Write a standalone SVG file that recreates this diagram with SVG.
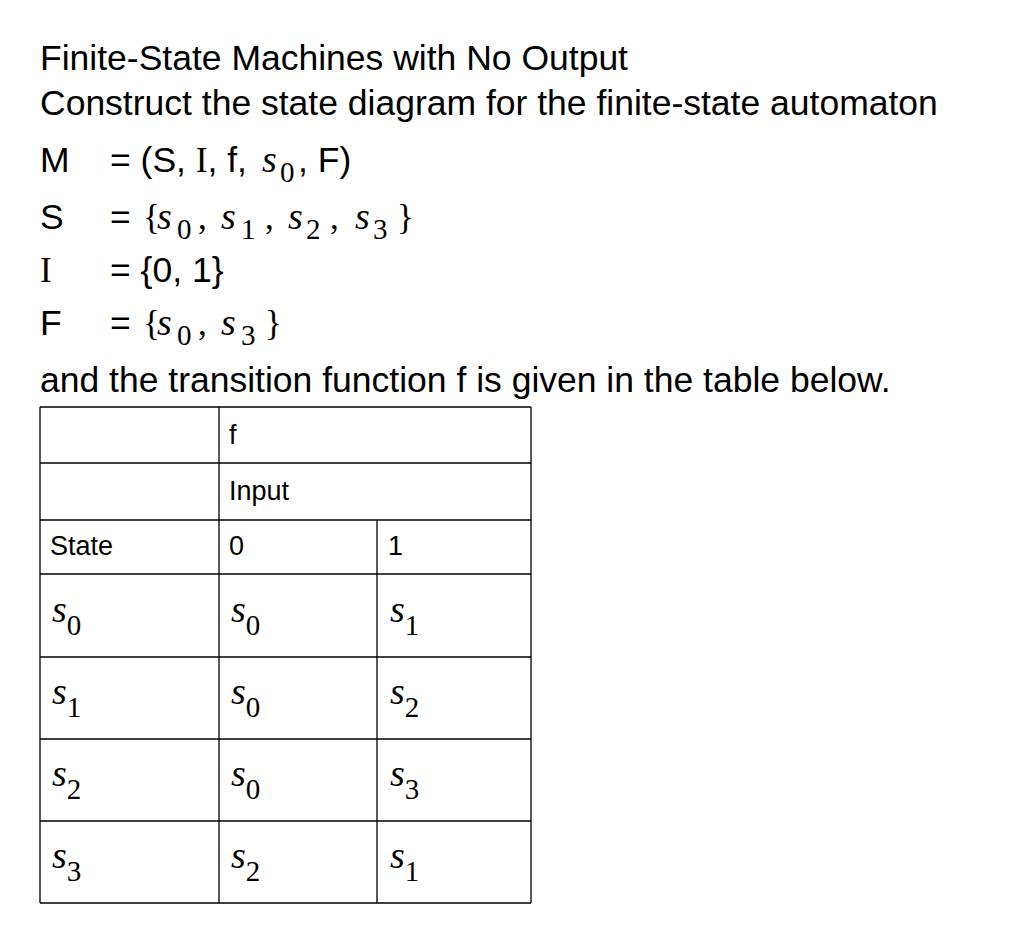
<svg xmlns="http://www.w3.org/2000/svg" width="1024" height="931" viewBox="0 0 1024 931">
<style>
.t{font-family:"Liberation Sans",Arial,sans-serif;font-size:35.5px;fill:#000}
.r{font-family:"Liberation Serif","Times New Roman",serif;font-size:35px;fill:#000}
.c{font-family:"Liberation Sans",Arial,sans-serif;font-size:27px;fill:#000}
.s{font-family:"Liberation Serif","Times New Roman",serif;font-style:italic;font-size:38px;fill:#000}
.sub{font-family:"Liberation Serif","Times New Roman",serif;font-size:29px;fill:#000}
line{stroke:#000;stroke-width:1.3}
</style>
<rect width="1024" height="931" fill="#fff"/>
<text class="t" x="40" y="70">Finite-State Machines with No Output</text>
<text class="t" x="40" y="115">Construct the state diagram for the finite-state automaton</text>
<g id="defs-lines">
<text class="t" x="40" y="172">M</text>
<text class="t" x="110" y="172">= (S, <tspan class="r">I</tspan>, f,</text>
<text class="s" x="262" y="172">s</text><text class="sub" x="280" y="182">0</text>
<text class="t" x="298" y="172">, F)</text>
<text class="t" x="40" y="229">S</text>
<text class="t" x="110" y="229">=</text>
<text class="r" x="143" y="229">{</text>
<text class="s" x="157" y="229">s</text><text class="sub" x="177" y="239">0</text><text class="r" x="198" y="229">,</text>
<text class="s" x="221" y="229">s</text><text class="sub" x="241" y="239">1</text><text class="r" x="265" y="229">,</text>
<text class="s" x="288" y="229">s</text><text class="sub" x="306" y="239">2</text><text class="r" x="330" y="229">,</text>
<text class="s" x="355" y="229">s</text><text class="sub" x="373" y="239">3</text><text class="r" x="397" y="229">}</text>
<text class="r" x="40" y="282">I</text>
<text class="t" x="110" y="282">= {0, 1}</text>
<text class="t" x="40" y="335">F</text>
<text class="t" x="110" y="335">=</text>
<text class="r" x="143" y="335">{</text>
<text class="s" x="157" y="335">s</text><text class="sub" x="177" y="345">0</text><text class="r" x="198" y="335">,</text>
<text class="s" x="221" y="335">s</text><text class="sub" x="241" y="345">3</text><text class="r" x="265" y="335">}</text>
</g>
<text class="t" x="40" y="392">and the transition function f is given in the table below.</text>
<g id="table">
<line x1="40" y1="407" x2="531" y2="407"/>
<line x1="40" y1="463" x2="531" y2="463"/>
<line x1="40" y1="520" x2="531" y2="520"/>
<line x1="40" y1="574" x2="531" y2="574"/>
<line x1="40" y1="657" x2="531" y2="657"/>
<line x1="40" y1="739" x2="531" y2="739"/>
<line x1="40" y1="821" x2="531" y2="821"/>
<line x1="40" y1="903" x2="531" y2="903"/>
<line x1="40" y1="407" x2="40" y2="903"/>
<line x1="219" y1="407" x2="219" y2="903"/>
<line x1="377" y1="520" x2="377" y2="903"/>
<line x1="531" y1="407" x2="531" y2="903"/>
<text class="c" x="229" y="444">f</text>
<text class="c" x="229" y="500">Input</text>
<text class="c" x="50" y="555">State</text>
<text class="c" x="229" y="555">0</text>
<text class="c" x="388" y="555">1</text>
<g>
<text x="52" y="622"><tspan class="s">s</tspan><tspan class="sub" dy="13">0</tspan></text>
<text x="231" y="622"><tspan class="s">s</tspan><tspan class="sub" dy="13">0</tspan></text>
<text x="390" y="622"><tspan class="s">s</tspan><tspan class="sub" dy="13">1</tspan></text>
<text x="52" y="704"><tspan class="s">s</tspan><tspan class="sub" dy="13">1</tspan></text>
<text x="231" y="704"><tspan class="s">s</tspan><tspan class="sub" dy="13">0</tspan></text>
<text x="390" y="704"><tspan class="s">s</tspan><tspan class="sub" dy="13">2</tspan></text>
<text x="52" y="786"><tspan class="s">s</tspan><tspan class="sub" dy="13">2</tspan></text>
<text x="231" y="786"><tspan class="s">s</tspan><tspan class="sub" dy="13">0</tspan></text>
<text x="390" y="786"><tspan class="s">s</tspan><tspan class="sub" dy="13">3</tspan></text>
<text x="52" y="868"><tspan class="s">s</tspan><tspan class="sub" dy="13">3</tspan></text>
<text x="231" y="868"><tspan class="s">s</tspan><tspan class="sub" dy="13">2</tspan></text>
<text x="390" y="868"><tspan class="s">s</tspan><tspan class="sub" dy="13">1</tspan></text>
</g>
</g>
</svg>
